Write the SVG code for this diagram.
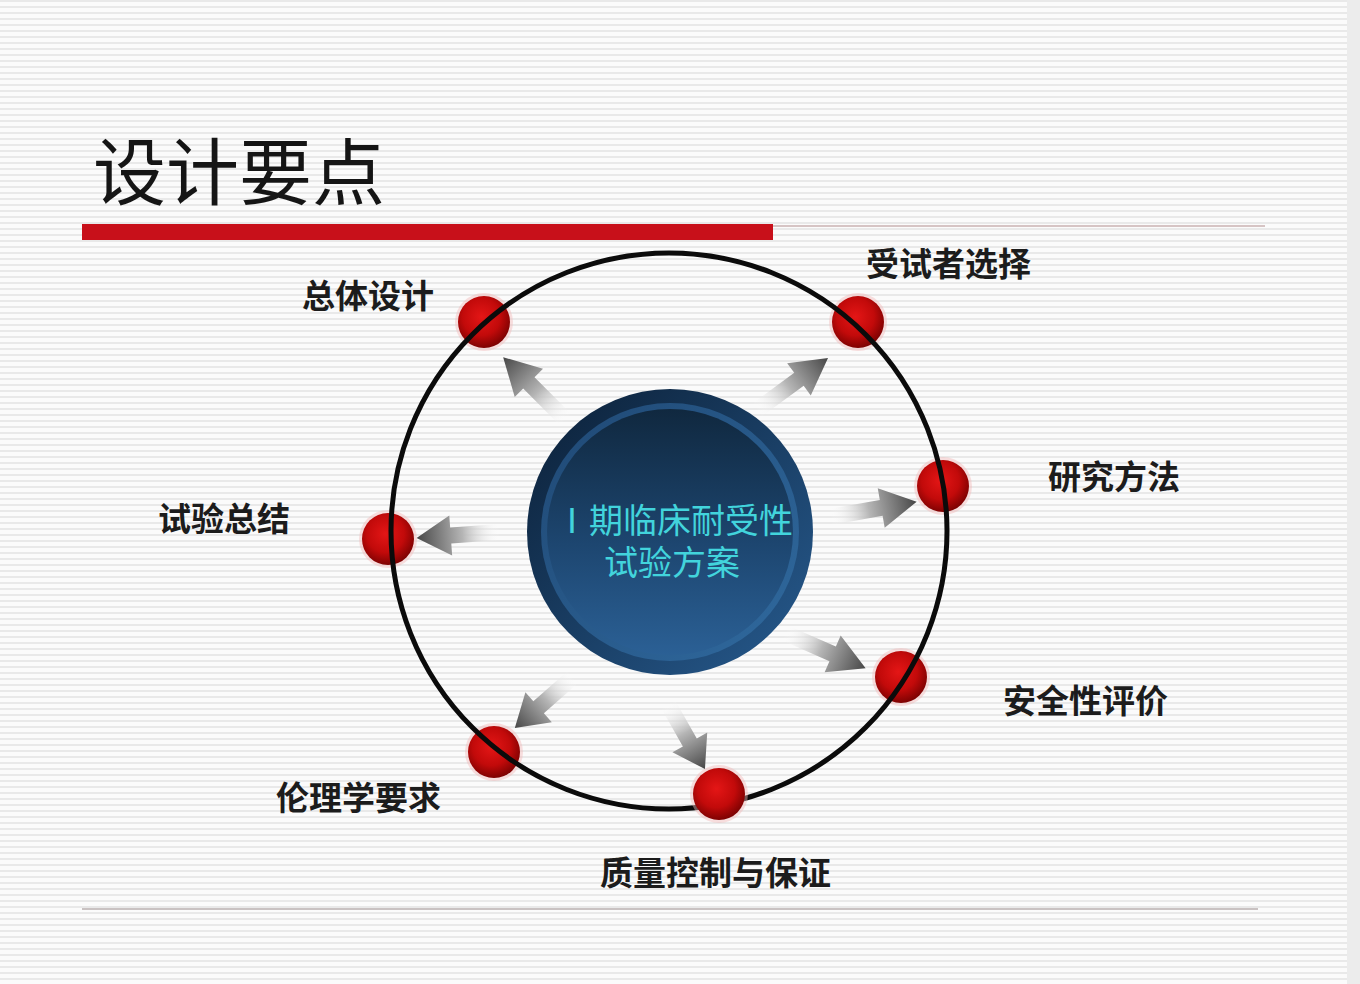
<svg xmlns="http://www.w3.org/2000/svg" xmlns:xlink="http://www.w3.org/1999/xlink" width="1360" height="984" viewBox="0 0 1360 984">
<defs>
  <pattern id="stripes" width="8" height="6" patternUnits="userSpaceOnUse">
    <rect width="8" height="6" fill="#fbfbfb"/>
    <rect y="0" width="8" height="2" fill="#e9e9e9"/>
  </pattern>
  <linearGradient id="arrG" x1="0" y1="0" x2="1" y2="0">
    <stop offset="0" stop-color="#ffffff" stop-opacity="0"/>
    <stop offset="0.45" stop-color="#b5b5b5"/>
    <stop offset="1" stop-color="#474747"/>
  </linearGradient>
  <radialGradient id="dotG" cx="0.45" cy="0.4" r="0.6">
    <stop offset="0" stop-color="#e41616"/>
    <stop offset="0.6" stop-color="#c20a0a"/>
    <stop offset="1" stop-color="#7e0202"/>
  </radialGradient>
  <linearGradient id="outerG" x1="0" y1="0" x2="1" y2="1">
    <stop offset="0" stop-color="#0b1f36"/>
    <stop offset="1" stop-color="#275b8f"/>
  </linearGradient>
  <linearGradient id="ringG" x1="0" y1="0" x2="1" y2="1">
    <stop offset="0" stop-color="#1f4874"/>
    <stop offset="1" stop-color="#306a9f"/>
  </linearGradient>
  <linearGradient id="innerG" x1="0" y1="0" x2="0" y2="1">
    <stop offset="0" stop-color="#10283f"/>
    <stop offset="0.55" stop-color="#1d4670"/>
    <stop offset="1" stop-color="#2b6095"/>
  </linearGradient>
  <polygon id="arr" points="0,-8 52,-8 52,-20 88,0 52,20 52,8 0,8" fill="url(#arrG)"/>
  <g id="dot">
    <circle r="29" fill="#f2b8b8" opacity="0.45"/>
    <circle r="26" fill="url(#dotG)"/>
  </g>
</defs>
<style>
  .lbl { font-family: "Noto Sans CJK SC", "Noto Sans", sans-serif; font-weight: 700; font-size: 33px; fill: #1c1c1c; }
  .title { font-family: "Noto Sans CJK SC", "Noto Sans", sans-serif; font-weight: 400; font-size: 73px; fill: #151515; }
  .ctr { font-family: "Liberation Serif", "Noto Sans CJK SC", serif; font-size: 34px; fill: #42d4dc; }
</style>

<rect width="1360" height="984" fill="url(#stripes)"/>
<rect x="1347" y="0" width="13" height="984" fill="#ececec"/>

<g id="title">
  <text class="title" x="93" y="199">设计要点</text>
  <rect x="82" y="224" width="691" height="16" fill="#c8101a"/>
  <line x1="773" y1="226" x2="1265" y2="226" stroke="#d6c4c4" stroke-width="2"/>
</g>
<line id="footer-rule" x1="82" y1="909" x2="1258" y2="909" stroke="#c9c2c2" stroke-width="2"/>

<g id="connectors">
  <use href="#arr" transform="translate(566,420) rotate(-135) scale(1.01,1)"/>
  <use href="#arr" transform="translate(757,410) rotate(-36.2)"/>
  <use href="#arr" transform="translate(830,517) rotate(-10)"/>
  <use href="#arr" transform="translate(500,532) rotate(175.9) scale(0.95,1)"/>
  <use href="#arr" transform="translate(785,633) rotate(23.6)"/>
  <use href="#arr" transform="translate(573,677) rotate(138.7) scale(0.88,1)"/>
  <use href="#arr" transform="translate(668,704) rotate(60.4) scale(0.85,1)"/>
</g>

<g id="center">
  <circle cx="670" cy="532" r="143" fill="url(#outerG)"/>
  <circle cx="670" cy="532" r="129" fill="url(#ringG)"/>
  <circle cx="670" cy="532" r="123" fill="url(#innerG)"/>
  <text class="ctr" x="674" y="533" text-anchor="middle">Ⅰ期临床耐受性</text>
  <text class="ctr" x="672" y="575" text-anchor="middle">试验方案</text>
</g>

<g id="n-zongti"><use href="#dot" x="484" y="322"/><text class="lbl" x="302" y="308">总体设计</text></g>
<g id="n-shoushi"><use href="#dot" x="858" y="322"/><text class="lbl" x="866" y="276">受试者选择</text></g>
<g id="n-yanjiu"><use href="#dot" x="943" y="486"/><text class="lbl" x="1048" y="489">研究方法</text></g>
<g id="n-zongjie"><use href="#dot" x="388" y="539"/><text class="lbl" x="158" y="531">试验总结</text></g>
<g id="n-anquan"><use href="#dot" x="901" y="677"/><text class="lbl" x="1003" y="713">安全性评价</text></g>
<g id="n-lunli"><use href="#dot" x="494" y="752"/><text class="lbl" x="276" y="810">伦理学要求</text></g>

<circle id="ring" cx="669" cy="531" r="278" fill="none" stroke="#0b0b0b" stroke-width="5"/>

<g id="n-zhiliang"><use href="#dot" x="719" y="794"/><text class="lbl" x="600" y="885">质量控制与保证</text></g>
</svg>
